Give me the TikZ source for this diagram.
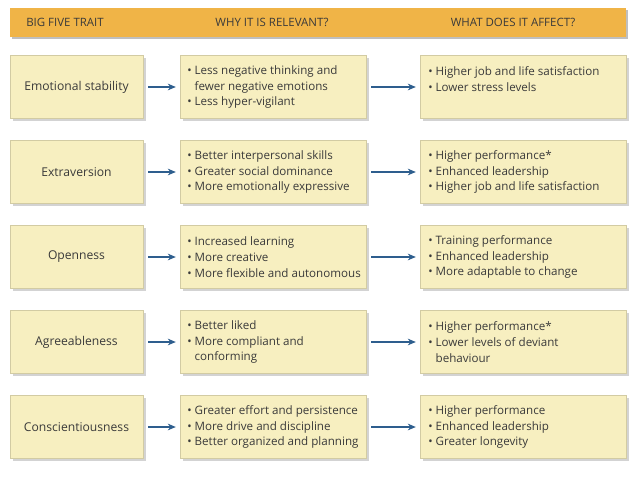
\documentclass[tikz,border=0pt]{standalone}
\usepackage{fontspec}
\setmainfont{Open Sans}
\usetikzlibrary{shadows,arrows.meta}
\definecolor{hdr}{HTML}{F0B447}
\definecolor{bx}{HTML}{F7EFC0}
\definecolor{txt}{HTML}{3A3A3A}
\definecolor{arr}{HTML}{2E5E8E}
\tikzset{
  box/.style={fill=bx,draw=bx!85!black,line width=0.3pt,drop shadow={shadow xshift=2pt,shadow yshift=-2pt,opacity=0.35},text=txt,font=\fontsize{9.1}{11.8}\selectfont,inner sep=0pt},
  lbox/.style={box,minimum width=133*0.75pt,minimum height=63*0.75pt,align=center},
  ttxt/.style={anchor=west,text=txt,font=\fontsize{8.7}{11.8}\selectfont,align=left,inner sep=0pt},
  con/.style={draw=arr,line width=1pt,-{Stealth[length=6pt,width=5pt]}},
  htxt/.style={text=txt,font=\fontsize{8.6}{10}\selectfont}
}
\begin{document}
\begin{tikzpicture}[x=0.75pt,y=-0.75pt]
\useasboundingbox (0,0) rectangle (638,478);
\fill[black!25] (12,10) rectangle (628,39);
\node[fill=hdr,minimum width=616*0.75pt,minimum height=29*0.75pt,inner sep=0pt] (hd) at (318,22.5) {};
\node[htxt] (h1) at (65,22.5) {BIG FIVE TRAIT};
\node[htxt] (h2) at (272,22.5) {WHY IT IS RELEVANT?};
\node[htxt] (h3) at (513,22.5) {WHAT DOES IT AFFECT?};
\newcommand{\brow}[5]{%
  \node[lbox] (l#1) at (76.5,#2) {#3};
  \node[box,minimum width=186*0.75pt,minimum height=63*0.75pt] (mb#1) at (273,#2) {};
  \node[box,minimum width=206*0.75pt,minimum height=63*0.75pt] (rb#1) at (523,#2) {};
  \node[ttxt] (m#1) at (187,#2) {#4};
  \node[ttxt] (r#1) at (428,#2) {#5};
  \draw[con] (l#1.east) ++(5,0) -- ([xshift=-3pt]mb#1.west);
  \draw[con] (mb#1.east) ++(5,0) -- ([xshift=-3pt]rb#1.west);
}
\def\b{\textbullet\ }
\def\i{\phantom{\textbullet\ }}
\brow{1}{87}{Emotional stability}{\b Less negative thinking and\\\i fewer negative emotions\\\b Less hyper-vigilant}{\b Higher job and life satisfaction\\\b Lower stress levels\\\mbox{}}
\brow{2}{172}{Extraversion}{\b Better interpersonal skills\\\b Greater social dominance\\\b More emotionally expressive}{\b Higher performance*\\\b Enhanced leadership\\\b Higher job and life satisfaction}
\brow{3}{257}{Openness}{\b Increased learning\\\b More creative\\\b More flexible and autonomous}{\b Training performance\\\b Enhanced leadership\\\b More adaptable to change}
\brow{4}{342}{Agreeableness}{\b Better liked\\\b More compliant and\\\i conforming}{\b Higher performance*\\\b Lower levels of deviant\\\i behaviour}
\brow{5}{427}{Conscientiousness}{\b Greater effort and persistence\\\b More drive and discipline\\\b Better organized and planning}{\b Higher performance\\\b Enhanced leadership\\\b Greater longevity}
\end{tikzpicture}
\end{document}
